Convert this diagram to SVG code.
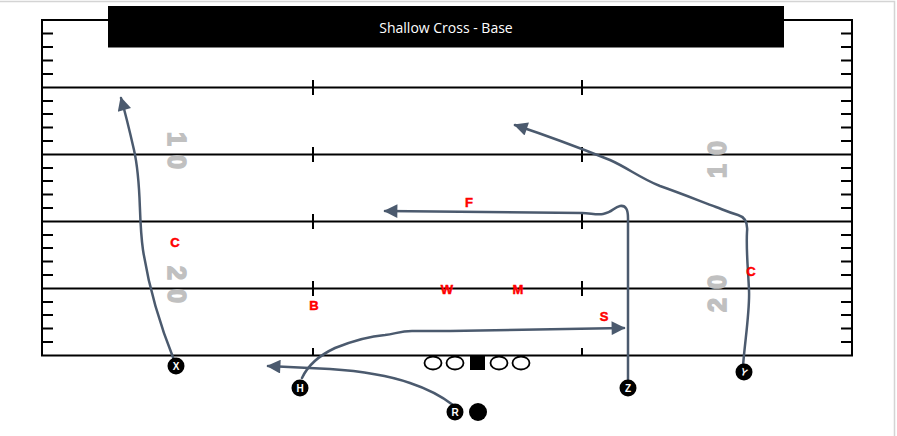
<svg xmlns="http://www.w3.org/2000/svg" width="897" height="436" viewBox="0 0 897 436">
<defs>
<style>
.fl{stroke:#000;stroke-width:2;fill:none}
.tk{stroke:#000;stroke-width:2}
.yd{font-family:"Liberation Sans",Arial,sans-serif;font-weight:bold;font-size:25px;fill:#c0c0c0;stroke:#c0c0c0;stroke-width:1.6;letter-spacing:9px}
.df{font-family:"Liberation Sans",Arial,sans-serif;font-weight:bold;font-size:13px;fill:#ff0000;stroke:#ff0000;stroke-width:0.5;text-anchor:middle}
.pl{fill:#000}
.pt{font-family:"Liberation Sans",Arial,sans-serif;font-weight:bold;font-size:10px;fill:#fff;text-anchor:middle}
.rt{fill:none;stroke:#4b5a6e;stroke-width:2.5;stroke-linecap:round}
.ol{fill:#fff;stroke:#000;stroke-width:1.8}
</style>
<marker id="ah" viewBox="0 0 10 10" refX="9" refY="5" markerWidth="7.5" markerHeight="5.5" markerUnits="strokeWidth" orient="auto">
<path d="M0,0 L10,5 L0,10 z" fill="#4b5a6e"/>
</marker>
</defs>
<rect width="897" height="436" fill="#fff"/>
<path d="M0,1.5 H894.5 V436" fill="none" stroke="#d4d4d4" stroke-width="1.5"/>
<g id="field">
<path class="fl" d="M42,20 H852 V355.5 H42 Z"/>
<path class="fl" d="M42,87.5 H852 M42,154.5 H852 M42,221.5 H852 M42,288.5 H852"/>
<path class="tk" d="M42,33.5 H53 M42,47 H53 M42,60.5 H53 M42,74 H53 M42,101 H53 M42,114 H53 M42,127.5 H53 M42,141 H53 M42,168 H53 M42,181 H53 M42,194.5 H53 M42,208 H53 M42,235 H53 M42,248 H53 M42,261.5 H53 M42,275 H53 M42,302 H53 M42,315 H53 M42,328.5 H53 M42,342 H53"/>
<path class="tk" d="M841,33.5 H852 M841,47 H852 M841,60.5 H852 M841,74 H852 M841,101 H852 M841,114 H852 M841,127.5 H852 M841,141 H852 M841,168 H852 M841,181 H852 M841,194.5 H852 M841,208 H852 M841,235 H852 M841,248 H852 M841,261.5 H852 M841,275 H852 M841,302 H852 M841,315 H852 M841,328.5 H852 M841,342 H852"/>
<path class="tk" d="M313,80 V95 M313,147 V162 M313,214 V229 M313,281 V296 M313,348 V355 M582,80 V95 M582,147 V162 M582,214 V229 M582,281 V296 M582,348 V355"/>
<text class="yd" transform="translate(168,155) rotate(90)" text-anchor="middle">10</text>
<text class="yd" transform="translate(168,289) rotate(90)" text-anchor="middle">20</text>
<text class="yd" transform="translate(726,155) rotate(-90)" text-anchor="middle">10</text>
<text class="yd" transform="translate(726,289) rotate(-90)" text-anchor="middle">20</text>
</g>
<g id="title">
<rect x="108" y="6" width="676" height="41.5" fill="#000"/>
<text x="446" y="33" font-family="'Open Sans','Liberation Sans',sans-serif" font-size="14" fill="#fff" text-anchor="middle">Shallow Cross - Base</text>
</g>
<g id="connectors">
<path class="rt" marker-end="url(#ah)" d="M174,360 C162,330 150,295 143,250 C138,215 142,185 134,150 C129,128 125,112 121,98"/>
<path class="rt" marker-end="url(#ah)" d="M743,366 C745,340 750,310 749,290 C748,268 746,250 747,232 C748,222 745,217 738,215 C728,212 724,210 716,207 C700,201 680,193 660,186 C640,178 628,168 610,160 C590,152 560,140 515,125"/>
<path class="rt" marker-end="url(#ah)" d="M628,380 L628,218 C628,210 626,205 620,206 C614,207 612,213 603,214 C596,215 590,213 582,213 L385,211"/>
<path class="rt" marker-end="url(#ah)" d="M302,378 C308,365 318,356 335,348 C355,340 372,336 385,335 C395,334 400,331 412,331 L450,331 L624,328"/>
<path class="rt" marker-end="url(#ah)" d="M453,405 C440,395 425,388 410,383 C390,376 360,371 330,369 L268,366"/>
</g>
<g id="defense">
<text class="df" x="175" y="247">C</text>
<text class="df" x="469" y="206.5">F</text>
<text class="df" x="314" y="310">B</text>
<text class="df" x="447" y="294">W</text>
<text class="df" x="518" y="294">M</text>
<text class="df" x="604" y="320.5">S</text>
<text class="df" x="751" y="276">C</text>
</g>
<g id="line">
<ellipse class="ol" cx="433" cy="363" rx="8.5" ry="6.5"/>
<ellipse class="ol" cx="455" cy="363" rx="8.5" ry="6.5"/>
<rect x="470" y="356" width="15" height="14" fill="#000"/>
<ellipse class="ol" cx="499" cy="363" rx="8.5" ry="6.5"/>
<ellipse class="ol" cx="521" cy="363" rx="8.5" ry="6.5"/>
</g>
<g id="player-x"><circle class="pl" cx="176" cy="366" r="8.5"/><text class="pt" x="176" y="369.5">X</text></g>
<g id="player-h"><circle class="pl" cx="300" cy="388" r="8.5"/><text class="pt" x="300" y="391.5">H</text></g>
<g id="player-r"><circle class="pl" cx="455" cy="412" r="8.5"/><text class="pt" x="455" y="415.5">R</text></g>
<g id="player-qb"><circle class="pl" cx="478" cy="412" r="9"/></g>
<g id="player-z"><circle class="pl" cx="628" cy="388" r="8.5"/><text class="pt" x="628" y="391.5">Z</text></g>
<g id="player-y"><circle class="pl" cx="744" cy="372" r="8.5"/><text class="pt" transform="translate(744,372) rotate(20)" y="3.5">Y</text></g>
</svg>
